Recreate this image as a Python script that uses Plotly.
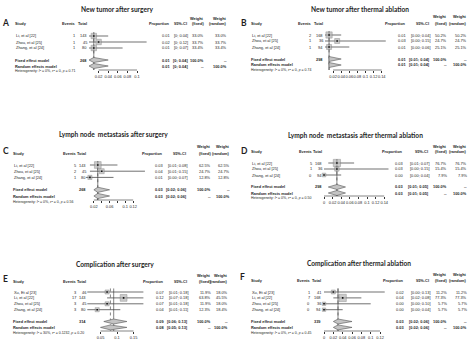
import plotly.graph_objects as go

W, H = 474, 351

# ------------------------------------------------------------------ data
panel_ids = ["A", "B", "C", "D", "E", "F"]
titles = ["New tumor after surgery", "New tumor after thermal ablation",
          "Lymph node  metastasis after surgery", "Lymph node  metastasis after thermal ablation",
          "Complication after surgery", "Complication after thermal ablation"]

studies_A = ["Li, et al [22]", "Zhou, et al [25]", "Zhang, et al [24]"]
events_A = [1, 1, 1]
totals_A = [143, 45, 80]
prop_A = [0.01, 0.02, 0.01]
lo_A = [0.00, 0.00, 0.00]
hi_A = [0.04, 0.12, 0.07]
wfix_A = [33.0, 33.7, 33.4]
wran_A = [33.0, 33.7, 33.4]
fixed_A = [0.01, 0.00, 0.04]
random_A = [0.01, 0.00, 0.04]
het_A = ["0%", "0", "0.71"]
ticks_A = [0.02, 0.04, 0.06, 0.08, 0.1]
ticklab_A = ["0.02", "0.04", "0.06", "0.08", "0.1"]

studies_B = ["Li, et al [22]", "Zhou, et al [25]", "Zhang, et al [24]"]
events_B = [2, 1, 1]
totals_B = [168, 36, 94]
prop_B = [0.01, 0.03, 0.01]
lo_B = [0.00, 0.00, 0.00]
hi_B = [0.04, 0.15, 0.06]
wfix_B = [50.2, 24.7, 25.1]
wran_B = [50.2, 24.7, 25.1]
fixed_B = [0.01, 0.01, 0.04]
random_B = [0.01, 0.01, 0.04]
het_B = ["0%", "0", "0.74"]
ticks_B = [0.02, 0.04, 0.06, 0.08, 0.1, 0.12, 0.14]
ticklab_B = ["0.02", "0.04", "0.06", "0.08", "0.1", "0.12", "0.14"]

studies_C = ["Li, et al [22]", "Zhou, et al [25]", "Zhang, et al [24]"]
events_C = [5, 2, 1]
totals_C = [143, 45, 80]
prop_C = [0.03, 0.04, 0.01]
lo_C = [0.01, 0.01, 0.00]
hi_C = [0.08, 0.15, 0.07]
wfix_C = [62.5, 24.7, 12.8]
wran_C = [62.5, 24.7, 12.8]
fixed_C = [0.03, 0.02, 0.06]
random_C = [0.03, 0.02, 0.06]
het_C = ["0%", "0", "0.56"]
ticks_C = [0.02, 0.04, 0.06, 0.08, 0.1, 0.12]
ticklab_C = ["0.02", " ", "0.06", " ", "0.1", "0.12"]

studies_D = ["Li, et al [22]", "Zhou, et al [25]", "Zhang, et al [24]"]
events_D = [5, 1, 0]
totals_D = [168, 36, 94]
prop_D = [0.03, 0.03, 0.00]
lo_D = [0.01, 0.00, 0.00]
hi_D = [0.07, 0.15, 0.04]
wfix_D = [76.7, 15.4, 7.9]
wran_D = [76.7, 15.4, 7.9]
fixed_D = [0.03, 0.01, 0.05]
random_D = [0.03, 0.01, 0.05]
het_D = ["0%", "0", "0.50"]
ticks_D = [0, 0.02, 0.04, 0.06, 0.08, 0.1, 0.12, 0.14]
ticklab_D = ["0", "0.02", "0.04", "0.06", "0.08", "0.1", "0.12", "0.14"]

studies_E = ["Xu, Et al [23]", "Li, et al [22]", "Zhou, et al [25]", "Zhang, et al [24]"]
events_E = [3, 17, 3, 3]
totals_E = [46, 143, 45, 80]
prop_E = [0.07, 0.12, 0.07, 0.04]
lo_E = [0.01, 0.07, 0.01, 0.01]
hi_E = [0.18, 0.18, 0.18, 0.11]
wfix_E = [11.9, 63.8, 11.9, 12.3]
wran_E = [18.0, 45.5, 18.0, 18.4]
fixed_E = [0.09, 0.06, 0.13]
random_E = [0.08, 0.05, 0.13]
het_E = ["30%", "0.1232", "0.20"]
ticks_E = [0.05, 0.1, 0.15]
ticklab_E = ["0.05", "0.1", "0.15"]

studies_F = ["Xu, Et al [23]", "Li, et al [22]", "Zhou, et al [25]", "Zhang, et al [24]"]
events_F = [1, 7, 0, 0]
totals_F = [41, 168, 36, 94]
prop_F = [0.02, 0.04, 0.00, 0.00]
lo_F = [0.00, 0.02, 0.00, 0.00]
hi_F = [0.13, 0.08, 0.10, 0.04]
wfix_F = [11.2, 77.3, 5.7, 5.7]
wran_F = [11.2, 77.3, 5.7, 5.7]
fixed_F = [0.03, 0.02, 0.06]
random_F = [0.03, 0.02, 0.06]
het_F = ["0%", "0", "0.45"]
ticks_F = [0, 0.02, 0.04, 0.06, 0.08, 0.1, 0.12]
ticklab_F = ["0", "0.02", "0.04", "0.06", "0.08", "0.1", "0.12"]

data = {
    "A": (studies_A, events_A, totals_A, prop_A, lo_A, hi_A, wfix_A, wran_A, fixed_A, random_A, het_A, ticks_A, ticklab_A),
    "B": (studies_B, events_B, totals_B, prop_B, lo_B, hi_B, wfix_B, wran_B, fixed_B, random_B, het_B, ticks_B, ticklab_B),
    "C": (studies_C, events_C, totals_C, prop_C, lo_C, hi_C, wfix_C, wran_C, fixed_C, random_C, het_C, ticks_C, ticklab_C),
    "D": (studies_D, events_D, totals_D, prop_D, lo_D, hi_D, wfix_D, wran_D, fixed_D, random_D, het_D, ticks_D, ticklab_D),
    "E": (studies_E, events_E, totals_E, prop_E, lo_E, hi_E, wfix_E, wran_E, fixed_E, random_E, het_E, ticks_E, ticklab_E),
    "F": (studies_F, events_F, totals_F, prop_F, lo_F, hi_F, wfix_F, wran_F, fixed_F, random_F, het_F, ticks_F, ticklab_F),
}
short_zero = {"A"}

# ------------------------------------------------------------------ layout geometry (pixels)
geo = {
    "A": dict(tx=117, ty=9, lx=5, ly=23, hy=24, row0=36, sp=6, ay=70, nx=15, ev=75, tot=87,
              zero=89, scale=480, prop=170, ci=188, wf=204, wr=227),
    "B": dict(tx=360, ty=9, lx=244, ly=23, hy=23, row0=35, sp=6, ay=70, nx=251, ev=311, tot=323,
              zero=325, scale=405, prop=406, ci=430, wf=447, wr=467),
    "C": dict(tx=113, ty=134, lx=6, ly=151, hy=153, row0=165, sp=6.2, ay=200, nx=13, ev=76, tot=86,
              zero=86, scale=393, prop=163, ci=187, wf=211, wr=230),
    "D": dict(tx=355, ty=135, lx=244, ly=151, hy=152, row0=163, sp=6, ay=196, nx=251, ev=312, tot=322,
              zero=324, scale=430, prop=403, ci=429, wf=447, wr=467),
    "E": dict(tx=115, ty=264, lx=5, ly=279, hy=281, row0=292, sp=5.9, ay=331, nx=13, ev=76, tot=86,
              zero=84, scale=330, prop=164, ci=188, wf=211, wr=228),
    "F": dict(tx=359, ty=263, lx=242, ly=277, hy=280, row0=292, sp=5.9, ay=331, nx=251, ev=310, tot=321,
              zero=324, scale=467, prop=404, ci=430, wf=447, wr=467),
}

BODY = "Liberation Sans"
TXT = "#1e1e1e"
LINE = "#333333"
FS = 3.9

fig = go.Figure()
annotations = []


def fx(px):
    return px / W


def fy(py):
    return 1 - py / H


def fmt(v, short):
    if short and v == 0:
        return "0"
    return f"{v:.2f}"


def ci_text(lo, hi, short):
    return f"[{fmt(lo, short)}; {fmt(hi, short)}]"


for n, pid in enumerate(panel_ids, start=1):
    (studies, events, totals, prop, lo, hi, wfix, wran,
     fixed, random_, het, ticks, ticklab) = data[pid]
    g = geo[pid]
    short = pid in short_zero
    xa = "x" if n == 1 else f"x{n}"
    ya = "y" if n == 1 else f"y{n}"
    k = len(studies)
    rows = list(range(k))
    r_fixed, r_random, r_het = k + 1, k + 2, k + 2.9
    r_axis = (g["ay"] - g["row0"]) / g["sp"]

    def rr(py, g=g):
        return (py - g["row0"]) / g["sp"]

    def row_py(r, g=g):
        # paper coordinate of a row index
        return fy(g["row0"] + r * g["sp"])

    # axes
    top_px = g["row0"] - 1.2 * g["sp"]
    bot_px = g["ay"] + 2
    xmax = max(hi) + 0.012
    x_lo_px = g["zero"] - 7
    x_hi_px = g["zero"] + xmax * g["scale"]
    fig.layout[f"xaxis{'' if n == 1 else n}"] = dict(
        domain=[fx(x_lo_px), fx(x_hi_px)],
        range=[(x_lo_px - g["zero"]) / g["scale"], xmax],
        anchor="free", position=fy(g["ay"]),
        showgrid=False, zeroline=False, showline=False,
        tickmode="array", tickvals=ticks, ticktext=ticklab, tickangle=0,
        ticks="outside", ticklen=2, tickwidth=0.6, tickcolor=LINE,
        tickfont=dict(family=BODY, size=FS, color=TXT),
    )
    fig.layout[f"yaxis{'' if n == 1 else n}"] = dict(
        domain=[fy(bot_px), fy(top_px)],
        range=[rr(bot_px), rr(top_px)],
        anchor=xa, visible=False,
    )

    # reference lines (fixed solid, random dotted)
    fig.add_trace(go.Scatter(x=[fixed[0], fixed[0]], y=[-0.6, r_axis], mode="lines",
                             line=dict(color=LINE, width=0.6), xaxis=xa, yaxis=ya, hoverinfo="skip"))
    fig.add_trace(go.Scatter(x=[random_[0], random_[0]], y=[-0.6, r_axis], mode="lines",
                             line=dict(color=LINE, width=0.6, dash="dot"), xaxis=xa, yaxis=ya, hoverinfo="skip"))

    # CI lines
    xs, ys = [], []
    for i in rows:
        xs += [lo[i], hi[i], None]
        ys += [i, i, None]
    fig.add_trace(go.Scatter(x=xs, y=ys, mode="lines", line=dict(color=LINE, width=0.7),
                             xaxis=xa, yaxis=ya, hoverinfo="skip"))
    # boxes
    sizes = [2.0 + 6.0 * (w / 100) ** 0.5 for w in wfix]
    fig.add_trace(go.Scatter(x=prop, y=rows, mode="markers",
                             marker=dict(symbol="square", size=sizes, color="#b5b5b5",
                                         line=dict(color="#666666", width=0.5)),
                             xaxis=xa, yaxis=ya, hoverinfo="skip"))
    fig.add_trace(go.Scatter(x=prop, y=rows, mode="markers",
                             marker=dict(symbol="square", size=1.6, color="#111111"),
                             xaxis=xa, yaxis=ya, hoverinfo="skip"))
    # diamonds
    for est, r in ((fixed, r_fixed), (random_, r_random)):
        fig.add_trace(go.Scatter(x=[est[1], est[0], est[2], est[0], est[1]],
                                 y=[r, r - 0.42, r, r + 0.42, r],
                                 mode="lines", fill="toself", fillcolor="#c4c4c4",
                                 line=dict(color="#555555", width=0.6),
                                 xaxis=xa, yaxis=ya, hoverinfo="skip"))
    # axis line
    fig.add_trace(go.Scatter(x=[ticks[0], ticks[-1]], y=[r_axis, r_axis], mode="lines",
                             line=dict(color=LINE, width=0.6), xaxis=xa, yaxis=ya, hoverinfo="skip"))

    def txt(x_px, r, s, anchor="left", bold=False, size=FS, family=BODY, row_py=row_py):
        annotations.append(dict(
            x=fx(x_px), y=row_py(r), xref="paper", yref="paper",
            text=f"<b>{s}</b>" if bold else s,
            showarrow=False, xanchor=anchor, yanchor="middle",
            font=dict(family=family, size=size, color=TXT), borderpad=0, borderwidth=0))

    # title and letter
    txt(g["tx"], rr(g["ty"]), titles[n - 1], "center", True, 6.6, "Lato")
    txt(g["lx"], rr(g["ly"]), pid, "center", True, 8.5, "Lato")

    # headers
    rh = rr(g["hy"])
    txt(g["nx"], rh, "Study", bold=True)
    txt(g["ev"], rh, "Events", "right", True)
    txt(g["tot"], rh, "Total", "right", True)
    txt(g["prop"], rh, "Proportion", "right", True)
    txt(g["ci"] - 1, rh, "95%-CI", "right", True)
    txt(g["wf"], rh - 1, "Weight", "right", True)
    txt(g["wf"], rh, "(fixed)", "right", True)
    txt(g["wr"], rh - 1, "Weight", "right", True)
    txt(g["wr"], rh, "(random)", "right", True)

    # study rows
    for i in rows:
        txt(g["nx"] + 1, i, studies[i])
        txt(g["ev"], i, str(events[i]), "right")
        txt(g["tot"], i, str(totals[i]), "right")
        txt(g["prop"], i, f"{prop[i]:.2f}", "right")
        txt(g["ci"], i, ci_text(lo[i], hi[i], short), "right")
        txt(g["wf"], i, f"{wfix[i]:.1f}%", "right")
        txt(g["wr"], i, f"{wran[i]:.1f}%", "right")

    # pooled rows
    txt(g["nx"], r_fixed, "Fixed effect model", bold=True)
    txt(g["tot"], r_fixed, str(sum(totals)), "right", True)
    txt(g["prop"], r_fixed, f"{fixed[0]:.2f}", "right", True)
    txt(g["ci"], r_fixed, ci_text(fixed[1], fixed[2], short), "right", True)
    txt(g["wf"], r_fixed, "100.0%", "right", True)
    txt(g["wr"], r_fixed, "--", "right", True)
    txt(g["nx"], r_random, "Random effects model", bold=True)
    txt(g["prop"], r_random, f"{random_[0]:.2f}", "right", True)
    txt(g["ci"], r_random, ci_text(random_[1], random_[2], short), "right", True)
    txt(g["wf"], r_random, "--", "right", True)
    txt(g["wr"], r_random, "100.0%", "right", True)
    txt(g["nx"], r_het,
        f"Heterogeneity: <i>I</i><sup>2</sup> = {het[0]}, <i>τ</i><sup>2</sup> = {het[1]}, <i>p</i> = {het[2]}",
        size=FS - 0.4)

fig.update_layout(
    width=W, height=H, margin=dict(l=0, r=0, t=0, b=0),
    paper_bgcolor="white", plot_bgcolor="rgba(0,0,0,0)",
    showlegend=False, annotations=annotations,
)

fig.write_html("out.html")
